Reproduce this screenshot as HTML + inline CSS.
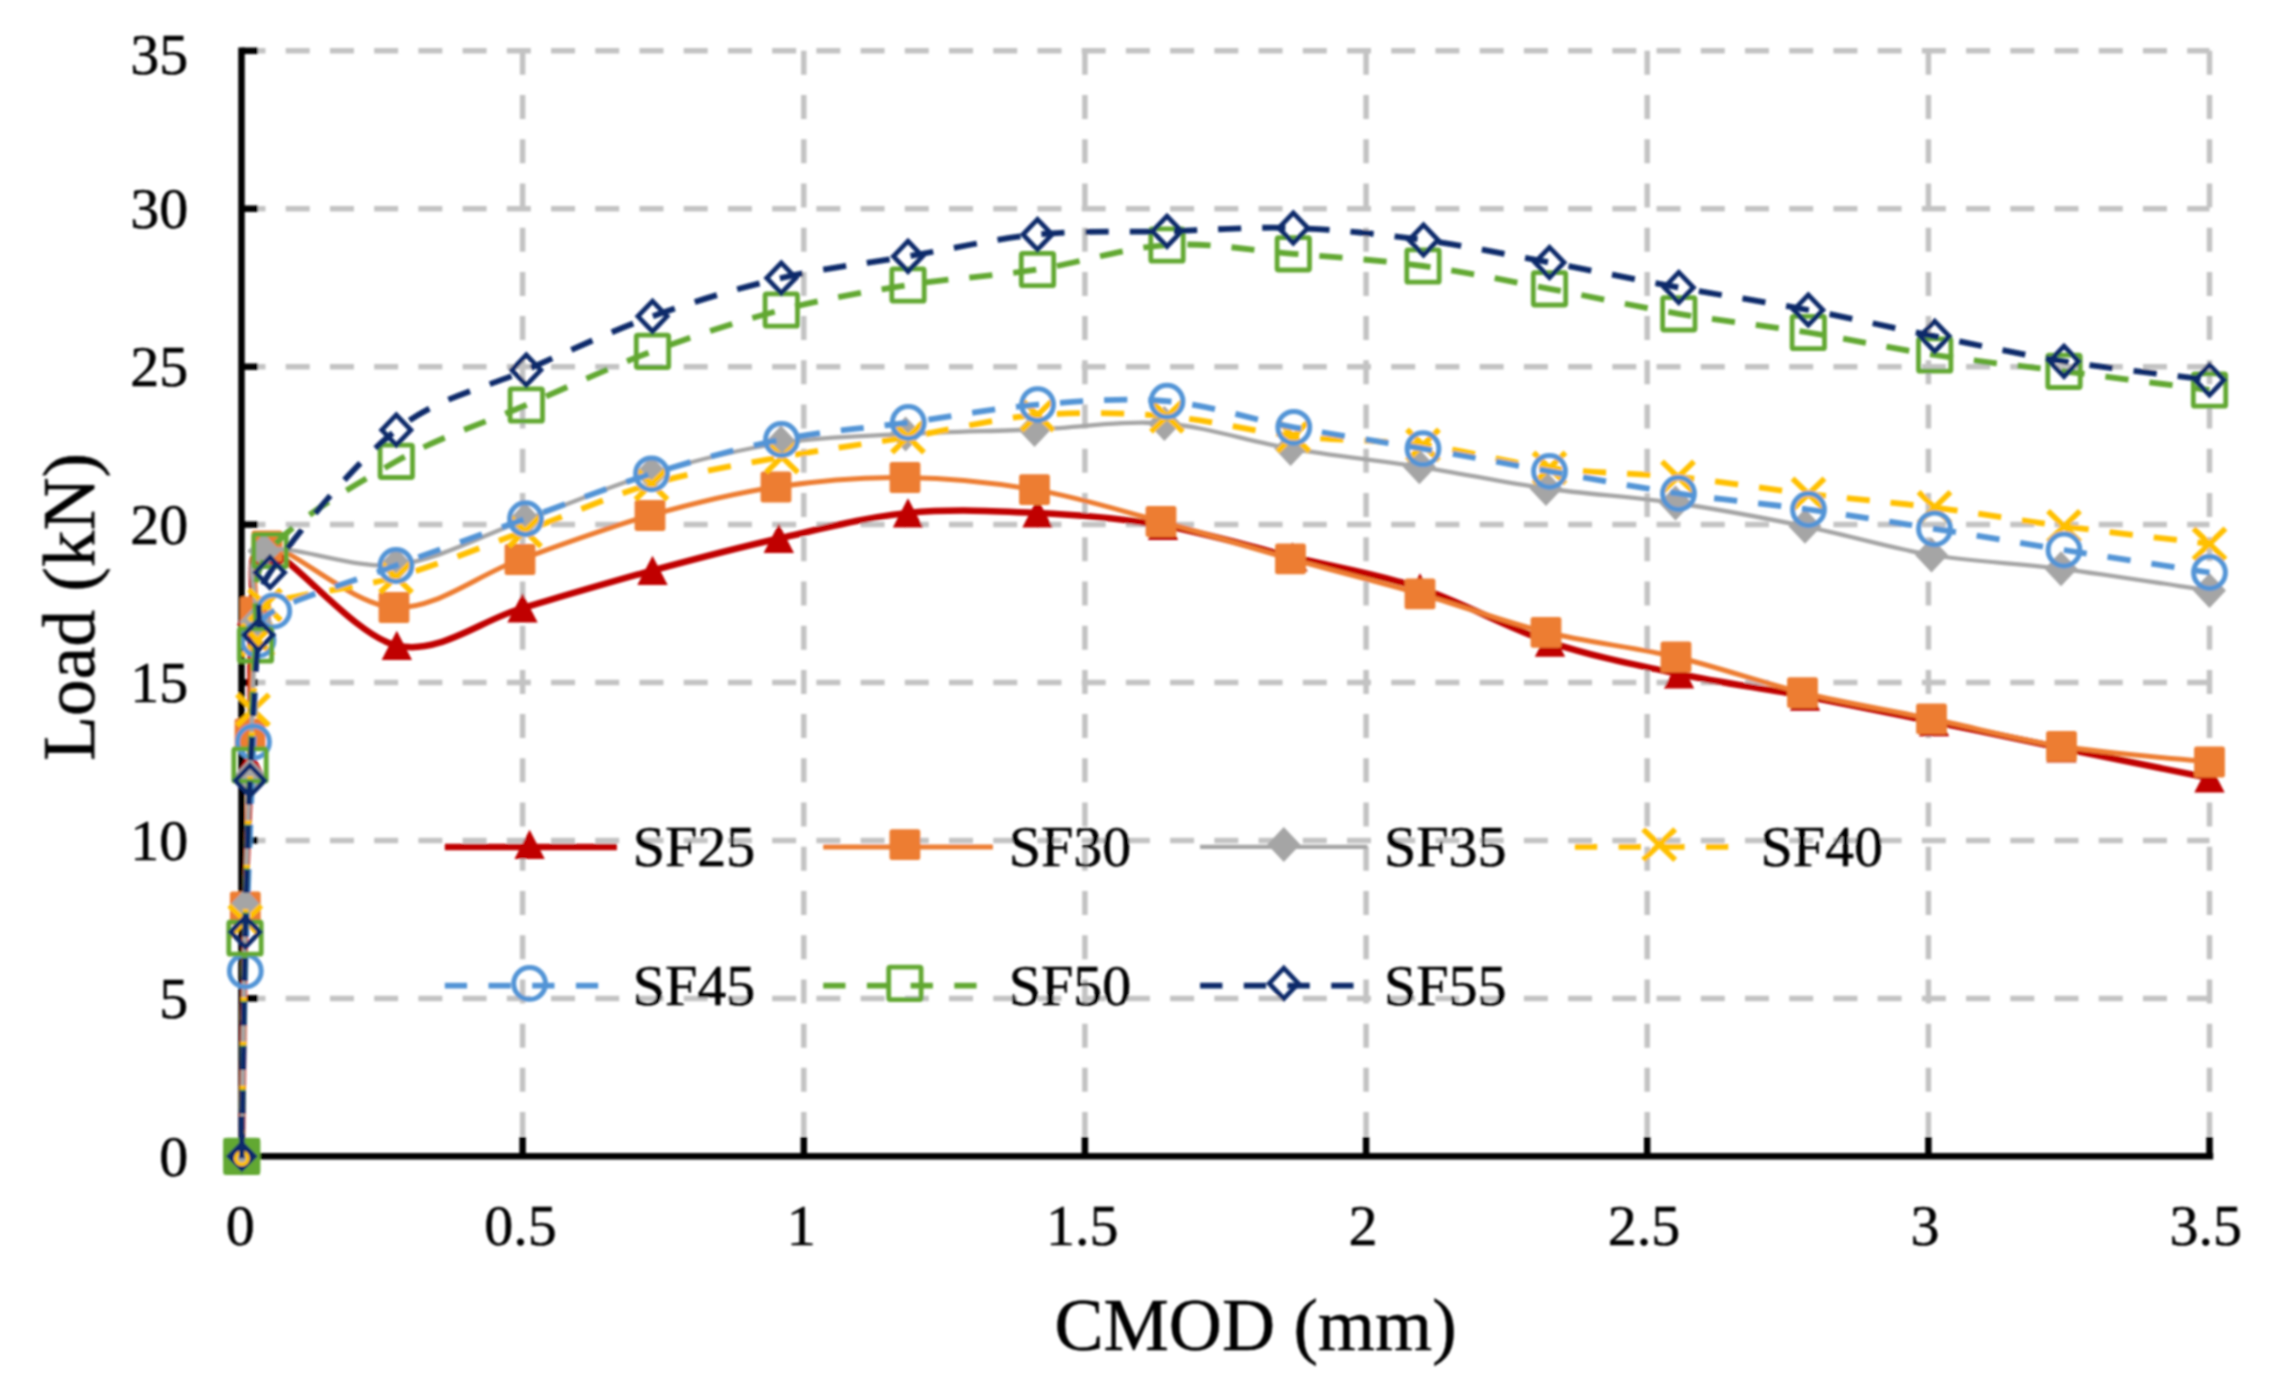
<!DOCTYPE html>
<html><head><meta charset="utf-8"><title>Load-CMOD</title>
<style>html,body{margin:0;padding:0;background:#fff}body{width:2272px;height:1393px;overflow:hidden}</style></head>
<body>
<svg width="2272" height="1393" viewBox="0 0 2272 1393" style="display:block">
<rect width="2272" height="1393" fill="#fff"/>
<defs><filter id="b" x="0" y="0" width="2272" height="1393" filterUnits="userSpaceOnUse"><feGaussianBlur stdDeviation="1.1"/></filter></defs>
<g filter="url(#b)">
<g stroke="#c3c3c3" stroke-width="5.5" stroke-dasharray="24 20.22" fill="none">
<path d="M241.5,998.4 H2209.5"/>
<path d="M241.5,840.4 H2209.5"/>
<path d="M241.5,682.5 H2209.5"/>
<path d="M241.5,524.6 H2209.5"/>
<path d="M241.5,366.7 H2209.5"/>
<path d="M241.5,208.7 H2209.5"/>
<path d="M241.5,50.8 H2209.5"/>
<path d="M522.6,50.8 V1156.3"/>
<path d="M803.8,50.8 V1156.3"/>
<path d="M1084.9,50.8 V1156.3"/>
<path d="M1366.1,50.8 V1156.3"/>
<path d="M1647.2,50.8 V1156.3"/>
<path d="M1928.4,50.8 V1156.3"/>
<path d="M2209.5,50.8 V1156.3"/>
</g>
<g stroke="#000" stroke-width="6.5" fill="none">
<path d="M241.5,47.5 V1159.5"/>
<path d="M238.2,1156.3 H2213.2"/>
<path d="M241.5,998.4 h16.5"/>
<path d="M522.6,1156.3 v-19.5"/>
<path d="M241.5,840.4 h16.5"/>
<path d="M803.8,1156.3 v-19.5"/>
<path d="M241.5,682.5 h16.5"/>
<path d="M1084.9,1156.3 v-19.5"/>
<path d="M241.5,524.6 h16.5"/>
<path d="M1366.1,1156.3 v-19.5"/>
<path d="M241.5,366.7 h16.5"/>
<path d="M1647.2,1156.3 v-19.5"/>
<path d="M241.5,208.7 h16.5"/>
<path d="M1928.4,1156.3 v-19.5"/>
<path d="M241.5,50.8 h16.5"/>
<path d="M2209.5,1156.3 v-19.5"/>
</g>
<g><path d="M241.8,1156.3 C242.4,1115.2 243.9,975.5 245.3,910.0 C246.8,844.5 249.4,812.8 250.5,763.0 C251.6,713.2 249.1,646.5 252.0,611.0 C254.6,579.6 243.9,544.2 268.0,550.0 C292.1,555.8 354.4,635.8 396.8,645.5 C439.2,655.2 479.9,620.5 522.5,608.0 C565.1,595.5 609.8,582.1 652.5,570.5 C695.2,558.9 736.2,548.1 778.8,538.5 C821.4,528.9 864.9,517.2 908.0,513.0 C951.1,508.8 995.0,510.9 1037.5,513.0 C1080.0,515.1 1120.5,518.2 1163.0,525.5 C1205.5,532.8 1249.7,546.6 1292.5,557.0 C1335.3,567.4 1377.1,573.8 1420.0,588.0 C1462.9,602.2 1506.8,628.0 1550.0,642.3 C1593.2,656.6 1636.5,665.0 1679.0,674.0 C1721.5,683.0 1762.5,688.2 1805.0,696.2 C1847.5,704.2 1891.2,713.2 1934.0,721.8 C1976.8,730.4 2015.6,738.6 2061.5,748.0 C2107.4,757.4 2184.8,773.0 2209.5,778.0" stroke="#C00000" stroke-width="6.5" fill="none" stroke-linejoin="round"/>
<path d="M241.8,1141.5 L257.0,1170.8 L226.6,1170.8Z" fill="#C00000"/>
<path d="M245.3,895.2 L260.5,924.5 L230.1,924.5Z" fill="#C00000"/>
<path d="M250.5,748.2 L265.7,777.5 L235.3,777.5Z" fill="#C00000"/>
<path d="M252.0,596.2 L267.2,625.5 L236.8,625.5Z" fill="#C00000"/>
<path d="M268.0,535.2 L283.2,564.5 L252.8,564.5Z" fill="#C00000"/>
<path d="M396.8,630.7 L412.0,660.0 L381.6,660.0Z" fill="#C00000"/>
<path d="M522.5,593.2 L537.7,622.5 L507.3,622.5Z" fill="#C00000"/>
<path d="M652.5,555.7 L667.7,585.0 L637.3,585.0Z" fill="#C00000"/>
<path d="M778.8,523.7 L794.0,553.0 L763.6,553.0Z" fill="#C00000"/>
<path d="M908.0,498.2 L923.2,527.5 L892.8,527.5Z" fill="#C00000"/>
<path d="M1037.5,498.2 L1052.7,527.5 L1022.3,527.5Z" fill="#C00000"/>
<path d="M1163.0,510.7 L1178.2,540.0 L1147.8,540.0Z" fill="#C00000"/>
<path d="M1292.5,542.2 L1307.7,571.5 L1277.3,571.5Z" fill="#C00000"/>
<path d="M1420.0,573.2 L1435.2,602.5 L1404.8,602.5Z" fill="#C00000"/>
<path d="M1550.0,627.5 L1565.2,656.8 L1534.8,656.8Z" fill="#C00000"/>
<path d="M1679.0,659.2 L1694.2,688.5 L1663.8,688.5Z" fill="#C00000"/>
<path d="M1805.0,681.4 L1820.2,710.7 L1789.8,710.7Z" fill="#C00000"/>
<path d="M1934.0,707.0 L1949.2,736.3 L1918.8,736.3Z" fill="#C00000"/>
<path d="M2061.5,733.2 L2076.7,762.5 L2046.3,762.5Z" fill="#C00000"/>
<path d="M2209.5,763.2 L2224.7,792.5 L2194.3,792.5Z" fill="#C00000"/>
</g>
<g><path d="M241.8,1156.3 C242.4,1114.8 243.9,977.4 245.3,907.0 C246.7,836.6 248.3,783.2 250.0,734.0 C251.7,684.8 252.7,643.3 255.5,612.0 C258.3,580.7 243.9,546.8 267.0,546.0 C290.1,545.2 351.8,605.2 394.0,607.5 C436.2,609.8 477.3,574.8 520.0,559.5 C562.7,544.2 607.3,527.6 650.0,515.5 C692.7,503.4 733.5,493.3 776.0,487.0 C818.5,480.7 861.9,477.1 905.0,477.5 C948.1,477.9 991.8,482.3 1034.5,489.6 C1077.2,496.9 1118.3,510.0 1161.0,521.5 C1203.7,533.0 1247.3,546.8 1290.5,558.8 C1333.7,570.8 1377.4,581.5 1420.0,593.8 C1462.6,606.0 1503.3,621.8 1546.0,632.3 C1588.7,642.8 1633.2,646.9 1676.0,657.0 C1718.8,667.1 1759.9,682.4 1802.5,692.7 C1845.1,703.0 1888.3,709.9 1931.5,718.8 C1974.7,727.7 2015.2,739.1 2061.5,746.3 C2107.8,753.5 2184.8,759.4 2209.5,762.0" stroke="#ED7D31" stroke-width="5" fill="none" stroke-linejoin="round"/>
<rect x="226.4" y="1140.9" width="30.8" height="30.8" rx="2.5" fill="#ED7D31"/>
<rect x="229.9" y="891.6" width="30.8" height="30.8" rx="2.5" fill="#ED7D31"/>
<rect x="234.6" y="718.6" width="30.8" height="30.8" rx="2.5" fill="#ED7D31"/>
<rect x="240.1" y="596.6" width="30.8" height="30.8" rx="2.5" fill="#ED7D31"/>
<rect x="251.6" y="530.6" width="30.8" height="30.8" rx="2.5" fill="#ED7D31"/>
<rect x="378.6" y="592.1" width="30.8" height="30.8" rx="2.5" fill="#ED7D31"/>
<rect x="504.6" y="544.1" width="30.8" height="30.8" rx="2.5" fill="#ED7D31"/>
<rect x="634.6" y="500.1" width="30.8" height="30.8" rx="2.5" fill="#ED7D31"/>
<rect x="760.6" y="471.6" width="30.8" height="30.8" rx="2.5" fill="#ED7D31"/>
<rect x="889.6" y="462.1" width="30.8" height="30.8" rx="2.5" fill="#ED7D31"/>
<rect x="1019.1" y="474.2" width="30.8" height="30.8" rx="2.5" fill="#ED7D31"/>
<rect x="1145.6" y="506.1" width="30.8" height="30.8" rx="2.5" fill="#ED7D31"/>
<rect x="1275.1" y="543.4" width="30.8" height="30.8" rx="2.5" fill="#ED7D31"/>
<rect x="1404.6" y="578.4" width="30.8" height="30.8" rx="2.5" fill="#ED7D31"/>
<rect x="1530.6" y="616.9" width="30.8" height="30.8" rx="2.5" fill="#ED7D31"/>
<rect x="1660.6" y="641.6" width="30.8" height="30.8" rx="2.5" fill="#ED7D31"/>
<rect x="1787.1" y="677.3" width="30.8" height="30.8" rx="2.5" fill="#ED7D31"/>
<rect x="1916.1" y="703.4" width="30.8" height="30.8" rx="2.5" fill="#ED7D31"/>
<rect x="2046.1" y="730.9" width="30.8" height="30.8" rx="2.5" fill="#ED7D31"/>
<rect x="2194.1" y="746.6" width="30.8" height="30.8" rx="2.5" fill="#ED7D31"/>
</g>
<g><path d="M241.8,1156.3 C242.4,1114.6 243.9,969.4 245.3,906.0 C246.7,842.6 248.2,823.3 250.0,776.0 C251.8,728.7 253.7,659.5 256.0,622.0 C258.2,586.3 240.7,560.5 264.0,551.0 C287.3,541.5 352.5,570.2 396.0,565.0 C439.5,559.8 482.4,535.2 525.0,520.0 C567.6,504.8 608.8,486.3 651.5,473.5 C694.2,460.7 738.6,449.6 781.0,443.0 C823.4,436.4 863.4,436.2 905.6,434.0 C947.9,431.8 991.4,431.2 1034.5,429.5 C1077.6,427.8 1121.7,420.3 1164.4,423.5 C1207.1,426.7 1248.1,441.4 1290.6,448.6 C1333.1,455.8 1376.8,460.2 1419.4,466.8 C1462.0,473.4 1503.3,482.5 1546.0,488.5 C1588.7,494.5 1632.3,496.7 1675.5,503.0 C1718.7,509.3 1762.3,517.6 1805.0,526.3 C1847.7,535.0 1888.8,547.9 1931.5,555.0 C1974.2,562.1 2014.7,562.9 2061.0,568.8 C2107.3,574.7 2184.8,586.9 2209.5,590.5" stroke="#A5A5A5" stroke-width="4.3" fill="none" stroke-linejoin="round"/>
<path d="M241.8,1138.8 L258.3,1156.3 L241.8,1173.8 L225.3,1156.3Z" fill="#A5A5A5"/>
<path d="M245.3,888.5 L261.8,906.0 L245.3,923.5 L228.8,906.0Z" fill="#A5A5A5"/>
<path d="M250.0,758.5 L266.5,776.0 L250.0,793.5 L233.5,776.0Z" fill="#A5A5A5"/>
<path d="M256.0,604.5 L272.5,622.0 L256.0,639.5 L239.5,622.0Z" fill="#A5A5A5"/>
<path d="M264.0,533.5 L280.5,551.0 L264.0,568.5 L247.5,551.0Z" fill="#A5A5A5"/>
<path d="M396.0,547.5 L412.5,565.0 L396.0,582.5 L379.5,565.0Z" fill="#A5A5A5"/>
<path d="M525.0,502.5 L541.5,520.0 L525.0,537.5 L508.5,520.0Z" fill="#A5A5A5"/>
<path d="M651.5,456.0 L668.0,473.5 L651.5,491.0 L635.0,473.5Z" fill="#A5A5A5"/>
<path d="M781.0,425.5 L797.5,443.0 L781.0,460.5 L764.5,443.0Z" fill="#A5A5A5"/>
<path d="M905.6,416.5 L922.1,434.0 L905.6,451.5 L889.1,434.0Z" fill="#A5A5A5"/>
<path d="M1034.5,412.0 L1051.0,429.5 L1034.5,447.0 L1018.0,429.5Z" fill="#A5A5A5"/>
<path d="M1164.4,406.0 L1180.9,423.5 L1164.4,441.0 L1147.9,423.5Z" fill="#A5A5A5"/>
<path d="M1290.6,431.1 L1307.1,448.6 L1290.6,466.1 L1274.1,448.6Z" fill="#A5A5A5"/>
<path d="M1419.4,449.3 L1435.9,466.8 L1419.4,484.3 L1402.9,466.8Z" fill="#A5A5A5"/>
<path d="M1546.0,471.0 L1562.5,488.5 L1546.0,506.0 L1529.5,488.5Z" fill="#A5A5A5"/>
<path d="M1675.5,485.5 L1692.0,503.0 L1675.5,520.5 L1659.0,503.0Z" fill="#A5A5A5"/>
<path d="M1805.0,508.8 L1821.5,526.3 L1805.0,543.8 L1788.5,526.3Z" fill="#A5A5A5"/>
<path d="M1931.5,537.5 L1948.0,555.0 L1931.5,572.5 L1915.0,555.0Z" fill="#A5A5A5"/>
<path d="M2061.0,551.3 L2077.5,568.8 L2061.0,586.3 L2044.5,568.8Z" fill="#A5A5A5"/>
<path d="M2209.5,573.0 L2226.0,590.5 L2209.5,608.0 L2193.0,590.5Z" fill="#A5A5A5"/>
</g>
<g><path d="M241.8,1156.3 C242.4,1117.1 243.4,995.4 245.3,921.0 C247.2,846.6 251.0,756.8 253.0,710.0 C254.5,675.0 255.5,657.5 257.5,640.0 C259.5,622.5 248.7,612.4 265.0,605.0 C288.1,594.5 352.7,589.3 396.0,577.0 C439.3,564.7 482.4,546.5 525.0,531.0 C567.6,515.5 608.7,496.3 651.5,484.0 C694.3,471.7 739.2,464.8 782.0,457.0 C824.8,449.2 865.4,444.0 908.0,437.0 C950.6,430.0 994.3,418.4 1037.5,415.0 C1080.7,411.6 1124.3,412.8 1167.0,416.3 C1209.7,419.8 1250.8,431.2 1293.5,436.0 C1336.2,440.8 1380.3,439.7 1423.0,445.0 C1465.7,450.3 1507.0,462.7 1549.5,468.0 C1592.0,473.3 1634.8,472.7 1678.0,477.0 C1721.2,481.3 1765.8,488.9 1808.5,494.0 C1851.2,499.1 1891.9,502.1 1934.5,507.5 C1977.1,512.9 2018.2,520.2 2064.0,526.3 C2109.8,532.3 2185.2,540.9 2209.5,543.8" stroke="#FFC000" stroke-width="5.8" fill="none" stroke-linejoin="round" stroke-dasharray="23.2 21" stroke-dashoffset="40.8"/>
<path d="M225.8,1140.9 L257.8,1171.7 M257.8,1140.9 L225.8,1171.7" stroke="#FFC000" stroke-width="5.6" fill="none"/>
<path d="M229.3,905.6 L261.3,936.4 M261.3,905.6 L229.3,936.4" stroke="#FFC000" stroke-width="5.6" fill="none"/>
<path d="M237.0,694.6 L269.0,725.4 M269.0,694.6 L237.0,725.4" stroke="#FFC000" stroke-width="5.6" fill="none"/>
<path d="M241.5,624.6 L273.5,655.4 M273.5,624.6 L241.5,655.4" stroke="#FFC000" stroke-width="5.6" fill="none"/>
<path d="M249.0,589.6 L281.0,620.4 M281.0,589.6 L249.0,620.4" stroke="#FFC000" stroke-width="5.6" fill="none"/>
<path d="M380.0,561.6 L412.0,592.4 M412.0,561.6 L380.0,592.4" stroke="#FFC000" stroke-width="5.6" fill="none"/>
<path d="M509.0,515.6 L541.0,546.4 M541.0,515.6 L509.0,546.4" stroke="#FFC000" stroke-width="5.6" fill="none"/>
<path d="M635.5,468.6 L667.5,499.4 M667.5,468.6 L635.5,499.4" stroke="#FFC000" stroke-width="5.6" fill="none"/>
<path d="M766.0,441.6 L798.0,472.4 M798.0,441.6 L766.0,472.4" stroke="#FFC000" stroke-width="5.6" fill="none"/>
<path d="M892.0,421.6 L924.0,452.4 M924.0,421.6 L892.0,452.4" stroke="#FFC000" stroke-width="5.6" fill="none"/>
<path d="M1021.5,399.6 L1053.5,430.4 M1053.5,399.6 L1021.5,430.4" stroke="#FFC000" stroke-width="5.6" fill="none"/>
<path d="M1151.0,400.9 L1183.0,431.7 M1183.0,400.9 L1151.0,431.7" stroke="#FFC000" stroke-width="5.6" fill="none"/>
<path d="M1277.5,420.6 L1309.5,451.4 M1309.5,420.6 L1277.5,451.4" stroke="#FFC000" stroke-width="5.6" fill="none"/>
<path d="M1407.0,429.6 L1439.0,460.4 M1439.0,429.6 L1407.0,460.4" stroke="#FFC000" stroke-width="5.6" fill="none"/>
<path d="M1533.5,452.6 L1565.5,483.4 M1565.5,452.6 L1533.5,483.4" stroke="#FFC000" stroke-width="5.6" fill="none"/>
<path d="M1662.0,461.6 L1694.0,492.4 M1694.0,461.6 L1662.0,492.4" stroke="#FFC000" stroke-width="5.6" fill="none"/>
<path d="M1792.5,478.6 L1824.5,509.4 M1824.5,478.6 L1792.5,509.4" stroke="#FFC000" stroke-width="5.6" fill="none"/>
<path d="M1918.5,492.1 L1950.5,522.9 M1950.5,492.1 L1918.5,522.9" stroke="#FFC000" stroke-width="5.6" fill="none"/>
<path d="M2048.0,510.9 L2080.0,541.7 M2080.0,510.9 L2048.0,541.7" stroke="#FFC000" stroke-width="5.6" fill="none"/>
<path d="M2193.5,528.4 L2225.5,559.2 M2225.5,528.4 L2193.5,559.2" stroke="#FFC000" stroke-width="5.6" fill="none"/>
</g>
<g><path d="M241.8,1156.3 C242.4,1125.4 243.4,1040.0 245.3,971.0 C247.2,902.0 251.4,797.2 253.5,742.0 C255.5,691.0 254.6,661.8 258.0,640.0 C260.5,623.7 259.3,618.8 273.8,611.0 C296.8,598.6 354.1,580.9 396.0,565.5 C437.9,550.1 482.9,534.0 525.5,518.7 C568.1,503.4 608.8,487.0 651.5,473.8 C694.2,460.6 738.7,448.1 781.5,439.5 C824.3,430.9 865.6,428.3 908.3,422.5 C951.0,416.7 994.5,408.2 1037.6,404.6 C1080.7,401.1 1124.3,397.4 1167.0,401.2 C1209.7,405.0 1251.1,419.4 1293.8,427.3 C1336.5,435.2 1380.4,441.4 1423.0,448.7 C1465.6,456.0 1506.9,463.8 1549.5,471.3 C1592.1,478.8 1635.3,487.1 1678.5,493.5 C1721.7,499.9 1765.8,503.6 1808.5,509.5 C1851.2,515.4 1891.9,522.0 1934.5,528.8 C1977.1,535.5 2018.2,542.7 2064.0,550.0 C2109.8,557.3 2185.2,568.8 2209.5,572.5" stroke="#5294D6" stroke-width="5.8" fill="none" stroke-linejoin="round" stroke-dasharray="23.2 21" stroke-dashoffset="1.0"/>
<circle cx="241.8" cy="1156.3" r="15.9" stroke="#5294D6" stroke-width="5" fill="none"/>
<circle cx="245.3" cy="971.0" r="15.9" stroke="#5294D6" stroke-width="5" fill="none"/>
<circle cx="253.5" cy="742.0" r="15.9" stroke="#5294D6" stroke-width="5" fill="none"/>
<circle cx="258.0" cy="640.0" r="15.9" stroke="#5294D6" stroke-width="5" fill="none"/>
<circle cx="273.8" cy="611.0" r="15.9" stroke="#5294D6" stroke-width="5" fill="none"/>
<circle cx="396.0" cy="565.5" r="15.9" stroke="#5294D6" stroke-width="5" fill="none"/>
<circle cx="525.5" cy="518.7" r="15.9" stroke="#5294D6" stroke-width="5" fill="none"/>
<circle cx="651.5" cy="473.8" r="15.9" stroke="#5294D6" stroke-width="5" fill="none"/>
<circle cx="781.5" cy="439.5" r="15.9" stroke="#5294D6" stroke-width="5" fill="none"/>
<circle cx="908.3" cy="422.5" r="15.9" stroke="#5294D6" stroke-width="5" fill="none"/>
<circle cx="1037.6" cy="404.6" r="15.9" stroke="#5294D6" stroke-width="5" fill="none"/>
<circle cx="1167.0" cy="401.2" r="15.9" stroke="#5294D6" stroke-width="5" fill="none"/>
<circle cx="1293.8" cy="427.3" r="15.9" stroke="#5294D6" stroke-width="5" fill="none"/>
<circle cx="1423.0" cy="448.7" r="15.9" stroke="#5294D6" stroke-width="5" fill="none"/>
<circle cx="1549.5" cy="471.3" r="15.9" stroke="#5294D6" stroke-width="5" fill="none"/>
<circle cx="1678.5" cy="493.5" r="15.9" stroke="#5294D6" stroke-width="5" fill="none"/>
<circle cx="1808.5" cy="509.5" r="15.9" stroke="#5294D6" stroke-width="5" fill="none"/>
<circle cx="1934.5" cy="528.8" r="15.9" stroke="#5294D6" stroke-width="5" fill="none"/>
<circle cx="2064.0" cy="550.0" r="15.9" stroke="#5294D6" stroke-width="5" fill="none"/>
<circle cx="2209.5" cy="572.5" r="15.9" stroke="#5294D6" stroke-width="5" fill="none"/>
</g>
<g><path d="M241.8,1156.3 C242.3,1119.9 243.6,1003.2 245.0,938.0 C246.4,872.8 248.2,813.8 250.0,765.0 C251.8,716.2 252.2,680.8 255.5,645.0 C258.8,609.2 246.5,581.1 270.0,550.5 C293.5,519.9 353.6,485.6 396.3,461.3 C439.0,437.1 483.6,423.3 526.3,405.0 C569.0,386.7 610.0,367.1 652.5,351.3 C695.0,335.5 738.7,321.1 781.3,310.0 C823.9,298.9 865.3,291.8 908.0,285.0 C950.7,278.2 994.3,276.2 1037.5,269.5 C1080.7,262.8 1124.4,247.6 1167.0,245.0 C1209.6,242.4 1250.6,250.3 1293.3,253.8 C1336.0,257.3 1380.3,260.2 1423.0,266.0 C1465.7,271.8 1506.9,280.8 1549.5,288.8 C1592.1,296.8 1635.7,306.5 1678.8,313.8 C1721.9,321.1 1765.6,325.6 1808.3,332.5 C1851.0,339.4 1892.1,348.5 1934.7,355.0 C1977.3,361.5 2018.2,365.5 2064.0,371.3 C2109.8,377.1 2185.2,386.9 2209.5,390.0" stroke="#62A833" stroke-width="5.8" fill="none" stroke-linejoin="round" stroke-dasharray="23.2 21" stroke-dashoffset="0.3"/>
<rect x="225.6" y="1140.1" width="32.4" height="32.4" rx="1.5" stroke="#62A833" stroke-width="4.8" fill="none"/>
<rect x="228.8" y="921.8" width="32.4" height="32.4" rx="1.5" stroke="#62A833" stroke-width="4.8" fill="none"/>
<rect x="233.8" y="748.8" width="32.4" height="32.4" rx="1.5" stroke="#62A833" stroke-width="4.8" fill="none"/>
<rect x="239.3" y="628.8" width="32.4" height="32.4" rx="1.5" stroke="#62A833" stroke-width="4.8" fill="none"/>
<rect x="253.8" y="534.3" width="32.4" height="32.4" rx="1.5" stroke="#62A833" stroke-width="4.8" fill="none"/>
<rect x="380.1" y="445.1" width="32.4" height="32.4" rx="1.5" stroke="#62A833" stroke-width="4.8" fill="none"/>
<rect x="510.1" y="388.8" width="32.4" height="32.4" rx="1.5" stroke="#62A833" stroke-width="4.8" fill="none"/>
<rect x="636.3" y="335.1" width="32.4" height="32.4" rx="1.5" stroke="#62A833" stroke-width="4.8" fill="none"/>
<rect x="765.1" y="293.8" width="32.4" height="32.4" rx="1.5" stroke="#62A833" stroke-width="4.8" fill="none"/>
<rect x="891.8" y="268.8" width="32.4" height="32.4" rx="1.5" stroke="#62A833" stroke-width="4.8" fill="none"/>
<rect x="1021.3" y="253.3" width="32.4" height="32.4" rx="1.5" stroke="#62A833" stroke-width="4.8" fill="none"/>
<rect x="1150.8" y="228.8" width="32.4" height="32.4" rx="1.5" stroke="#62A833" stroke-width="4.8" fill="none"/>
<rect x="1277.1" y="237.6" width="32.4" height="32.4" rx="1.5" stroke="#62A833" stroke-width="4.8" fill="none"/>
<rect x="1406.8" y="249.8" width="32.4" height="32.4" rx="1.5" stroke="#62A833" stroke-width="4.8" fill="none"/>
<rect x="1533.3" y="272.6" width="32.4" height="32.4" rx="1.5" stroke="#62A833" stroke-width="4.8" fill="none"/>
<rect x="1662.6" y="297.6" width="32.4" height="32.4" rx="1.5" stroke="#62A833" stroke-width="4.8" fill="none"/>
<rect x="1792.1" y="316.3" width="32.4" height="32.4" rx="1.5" stroke="#62A833" stroke-width="4.8" fill="none"/>
<rect x="1918.5" y="338.8" width="32.4" height="32.4" rx="1.5" stroke="#62A833" stroke-width="4.8" fill="none"/>
<rect x="2047.8" y="355.1" width="32.4" height="32.4" rx="1.5" stroke="#62A833" stroke-width="4.8" fill="none"/>
<rect x="2193.3" y="373.8" width="32.4" height="32.4" rx="1.5" stroke="#62A833" stroke-width="4.8" fill="none"/>
</g>
<g><path d="M241.8,1156.3 C242.4,1118.9 243.9,994.6 245.3,932.0 C246.7,869.4 247.8,830.1 250.0,780.6 C252.2,731.1 255.2,669.7 258.5,635.0 C261.5,603.3 252.2,598.8 270.0,572.4 C293.0,538.2 353.6,463.7 396.3,430.0 C439.0,396.3 483.6,388.9 526.3,370.0 C569.0,351.1 610.0,331.6 652.5,316.3 C695.0,301.0 738.7,288.0 781.3,278.0 C823.9,268.0 865.3,263.6 908.0,256.3 C950.7,249.1 994.3,238.7 1037.5,234.5 C1080.7,230.3 1124.4,232.4 1167.0,231.3 C1209.6,230.2 1250.5,226.6 1293.3,228.0 C1336.0,229.4 1380.8,234.2 1423.5,240.0 C1466.2,245.8 1507.0,254.6 1549.5,262.5 C1592.0,270.4 1635.7,279.6 1678.8,287.5 C1721.9,295.4 1765.6,301.9 1808.3,310.0 C1851.0,318.1 1892.1,327.8 1934.7,336.3 C1977.3,344.9 2018.2,354.0 2064.0,361.3 C2109.8,368.6 2185.2,376.9 2209.5,380.0" stroke="#0A2A6A" stroke-width="5.8" fill="none" stroke-linejoin="round" stroke-dasharray="23.2 21" stroke-dashoffset="1.7"/>
<path d="M241.8,1141.1 L256.4,1156.3 L241.8,1171.5 L227.2,1156.3Z" stroke="#0A2A6A" stroke-width="4.7" fill="none"/>
<path d="M245.3,916.8 L259.9,932.0 L245.3,947.2 L230.7,932.0Z" stroke="#0A2A6A" stroke-width="4.7" fill="none"/>
<path d="M250.0,765.4 L264.6,780.6 L250.0,795.8 L235.4,780.6Z" stroke="#0A2A6A" stroke-width="4.7" fill="none"/>
<path d="M258.5,619.8 L273.1,635.0 L258.5,650.2 L243.9,635.0Z" stroke="#0A2A6A" stroke-width="4.7" fill="none"/>
<path d="M270.0,557.2 L284.6,572.4 L270.0,587.6 L255.4,572.4Z" stroke="#0A2A6A" stroke-width="4.7" fill="none"/>
<path d="M396.3,414.8 L410.9,430.0 L396.3,445.2 L381.7,430.0Z" stroke="#0A2A6A" stroke-width="4.7" fill="none"/>
<path d="M526.3,354.8 L540.9,370.0 L526.3,385.2 L511.7,370.0Z" stroke="#0A2A6A" stroke-width="4.7" fill="none"/>
<path d="M652.5,301.1 L667.1,316.3 L652.5,331.5 L637.9,316.3Z" stroke="#0A2A6A" stroke-width="4.7" fill="none"/>
<path d="M781.3,262.8 L795.9,278.0 L781.3,293.2 L766.7,278.0Z" stroke="#0A2A6A" stroke-width="4.7" fill="none"/>
<path d="M908.0,241.1 L922.6,256.3 L908.0,271.5 L893.4,256.3Z" stroke="#0A2A6A" stroke-width="4.7" fill="none"/>
<path d="M1037.5,219.3 L1052.1,234.5 L1037.5,249.7 L1022.9,234.5Z" stroke="#0A2A6A" stroke-width="4.7" fill="none"/>
<path d="M1167.0,216.1 L1181.6,231.3 L1167.0,246.5 L1152.4,231.3Z" stroke="#0A2A6A" stroke-width="4.7" fill="none"/>
<path d="M1293.3,212.8 L1307.9,228.0 L1293.3,243.2 L1278.7,228.0Z" stroke="#0A2A6A" stroke-width="4.7" fill="none"/>
<path d="M1423.5,224.8 L1438.1,240.0 L1423.5,255.2 L1408.9,240.0Z" stroke="#0A2A6A" stroke-width="4.7" fill="none"/>
<path d="M1549.5,247.3 L1564.1,262.5 L1549.5,277.7 L1534.9,262.5Z" stroke="#0A2A6A" stroke-width="4.7" fill="none"/>
<path d="M1678.8,272.3 L1693.4,287.5 L1678.8,302.7 L1664.2,287.5Z" stroke="#0A2A6A" stroke-width="4.7" fill="none"/>
<path d="M1808.3,294.8 L1822.9,310.0 L1808.3,325.2 L1793.7,310.0Z" stroke="#0A2A6A" stroke-width="4.7" fill="none"/>
<path d="M1934.7,321.1 L1949.3,336.3 L1934.7,351.5 L1920.1,336.3Z" stroke="#0A2A6A" stroke-width="4.7" fill="none"/>
<path d="M2064.0,346.1 L2078.6,361.3 L2064.0,376.5 L2049.4,361.3Z" stroke="#0A2A6A" stroke-width="4.7" fill="none"/>
<path d="M2209.5,364.8 L2224.1,380.0 L2209.5,395.2 L2194.9,380.0Z" stroke="#0A2A6A" stroke-width="4.7" fill="none"/>
</g>
<rect x="226.1" y="1140.6" width="31.4" height="31.4" fill="#62A833" stroke="#62A833" stroke-width="5"/>
<path d="M241.8,1140.3 L257.8,1156.3 L241.8,1172.3 L225.8,1156.3Z" fill="#0A2A6A"/>
<circle cx="241.8" cy="1158.3" r="6" stroke="#FFC000" stroke-width="4" fill="#A5A5A5"/>
<path d="M241.8,1116.3 V1158.3" stroke="#0A2A6A" stroke-width="5.5"/>
<path d="M444.8,846.9 H616.9" stroke="#C00000" stroke-width="6.5" fill="none"/>
<path d="M529.6,829.8 L544.8,859.1 L514.4,859.1Z" fill="#C00000"/>
<text x="632.8" y="866.3" font-family="Liberation Serif, serif" stroke="#000" stroke-width="0.5" font-size="58" fill="#000">SF25</text>
<path d="M823.2,846.9 H992.9" stroke="#ED7D31" stroke-width="5" fill="none"/>
<rect x="889.5" y="829.2" width="30.8" height="30.8" rx="2.5" fill="#ED7D31"/>
<text x="1008.7" y="866.3" font-family="Liberation Serif, serif" stroke="#000" stroke-width="0.5" font-size="58" fill="#000">SF30</text>
<path d="M1200.1,846.9 H1367.4" stroke="#A5A5A5" stroke-width="4.3" fill="none"/>
<path d="M1283.8,827.1 L1300.3,844.6 L1283.8,862.1 L1267.3,844.6Z" fill="#A5A5A5"/>
<text x="1384.0" y="866.3" font-family="Liberation Serif, serif" stroke="#000" stroke-width="0.5" font-size="58" fill="#000">SF35</text>
<path d="M1574.9,846.9 h22.3 M1618.6,846.9 h22.3 M1662.3,846.9 h22.3 M1706.0,846.9 h22.3 " stroke="#FFC000" stroke-width="5.8" fill="none"/>
<path d="M1643.2,829.2 L1675.2,860.0 M1675.2,829.2 L1643.2,860.0" stroke="#FFC000" stroke-width="5.6" fill="none"/>
<text x="1760.4" y="866.3" font-family="Liberation Serif, serif" stroke="#000" stroke-width="0.5" font-size="58" fill="#000">SF40</text>
<path d="M444.8,985.7 h22.3 M488.5,985.7 h22.3 M532.2,985.7 h22.3 M575.9,985.7 h22.3 " stroke="#5294D6" stroke-width="5.8" fill="none"/>
<circle cx="529.6" cy="983.4" r="15.9" stroke="#5294D6" stroke-width="5" fill="none"/>
<text x="632.8" y="1004.8" font-family="Liberation Serif, serif" stroke="#000" stroke-width="0.5" font-size="58" fill="#000">SF45</text>
<path d="M823.2,985.7 h22.3 M866.9,985.7 h22.3 M910.6,985.7 h22.3 M954.3,985.7 h22.3 " stroke="#62A833" stroke-width="5.8" fill="none"/>
<rect x="888.7" y="967.2" width="32.4" height="32.4" rx="1.5" stroke="#62A833" stroke-width="4.8" fill="none"/>
<text x="1008.7" y="1004.8" font-family="Liberation Serif, serif" stroke="#000" stroke-width="0.5" font-size="58" fill="#000">SF50</text>
<path d="M1200.1,985.7 h22.3 M1243.8,985.7 h22.3 M1287.5,985.7 h22.3 M1331.2,985.7 h22.3 " stroke="#0A2A6A" stroke-width="5.8" fill="none"/>
<path d="M1283.8,968.2 L1298.4,983.4 L1283.8,998.6 L1269.2,983.4Z" stroke="#0A2A6A" stroke-width="4.7" fill="none"/>
<text x="1384.0" y="1004.8" font-family="Liberation Serif, serif" stroke="#000" stroke-width="0.5" font-size="58" fill="#000">SF55</text>
<text x="188.3" y="1175.6" text-anchor="end" font-family="Liberation Serif, serif" stroke="#000" stroke-width="0.5" font-size="58" fill="#000">0</text>
<text x="188.3" y="1017.7" text-anchor="end" font-family="Liberation Serif, serif" stroke="#000" stroke-width="0.5" font-size="58" fill="#000">5</text>
<text x="188.3" y="859.7" text-anchor="end" font-family="Liberation Serif, serif" stroke="#000" stroke-width="0.5" font-size="58" fill="#000">10</text>
<text x="188.3" y="701.8" text-anchor="end" font-family="Liberation Serif, serif" stroke="#000" stroke-width="0.5" font-size="58" fill="#000">15</text>
<text x="188.3" y="543.9" text-anchor="end" font-family="Liberation Serif, serif" stroke="#000" stroke-width="0.5" font-size="58" fill="#000">20</text>
<text x="188.3" y="386.0" text-anchor="end" font-family="Liberation Serif, serif" stroke="#000" stroke-width="0.5" font-size="58" fill="#000">25</text>
<text x="188.3" y="228.0" text-anchor="end" font-family="Liberation Serif, serif" stroke="#000" stroke-width="0.5" font-size="58" fill="#000">30</text>
<text x="188.3" y="73.9" text-anchor="end" font-family="Liberation Serif, serif" stroke="#000" stroke-width="0.5" font-size="58" fill="#000">35</text>
<text x="240.3" y="1245" text-anchor="middle" font-family="Liberation Serif, serif" stroke="#000" stroke-width="0.5" font-size="58" fill="#000">0</text>
<text x="520.4" y="1245" text-anchor="middle" font-family="Liberation Serif, serif" stroke="#000" stroke-width="0.5" font-size="58" fill="#000">0.5</text>
<text x="801.3" y="1245" text-anchor="middle" font-family="Liberation Serif, serif" stroke="#000" stroke-width="0.5" font-size="58" fill="#000">1</text>
<text x="1082.2" y="1245" text-anchor="middle" font-family="Liberation Serif, serif" stroke="#000" stroke-width="0.5" font-size="58" fill="#000">1.5</text>
<text x="1363.1" y="1245" text-anchor="middle" font-family="Liberation Serif, serif" stroke="#000" stroke-width="0.5" font-size="58" fill="#000">2</text>
<text x="1644.0" y="1245" text-anchor="middle" font-family="Liberation Serif, serif" stroke="#000" stroke-width="0.5" font-size="58" fill="#000">2.5</text>
<text x="1924.9" y="1245" text-anchor="middle" font-family="Liberation Serif, serif" stroke="#000" stroke-width="0.5" font-size="58" fill="#000">3</text>
<text x="2205.8" y="1245" text-anchor="middle" font-family="Liberation Serif, serif" stroke="#000" stroke-width="0.5" font-size="58" fill="#000">3.5</text>
<text x="1255.6" y="1350" text-anchor="middle" font-family="Liberation Serif, serif" stroke="#000" stroke-width="0.5" font-size="73.5" fill="#000">CMOD (mm)</text>
<text transform="translate(94.2,606.9) rotate(-90)" text-anchor="middle" font-family="Liberation Serif, serif" stroke="#000" stroke-width="0.5" font-size="73.5" fill="#000">Load (kN)</text>
</g>
</svg>
</body></html>
